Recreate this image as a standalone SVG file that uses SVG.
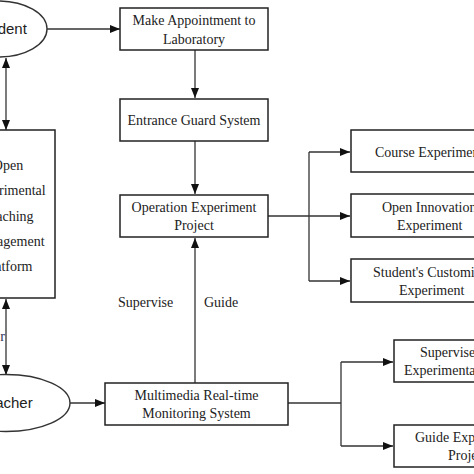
<svg xmlns="http://www.w3.org/2000/svg" width="474" height="474" viewBox="0 0 474 474">
<style>
.box{fill:#fff;stroke:#222;stroke-width:1.5}
.el{fill:#fff;stroke:#333;stroke-width:1.4}
.t{font-family:"Liberation Serif","Times New Roman",serif;font-size:14px;fill:#222}
.m{text-anchor:middle}
.s{font-family:"Liberation Sans",Arial,sans-serif;font-size:15px;fill:#222;text-anchor:middle}
.ln{fill:none;stroke:#333;stroke-width:1.3}
</style>
<defs>
<marker id="ah" markerUnits="userSpaceOnUse" markerWidth="11" markerHeight="9" refX="10" refY="4" orient="auto">
<path d="M0,0 L10,4 L0,8 Z" fill="#111"/>
</marker>
<marker id="as" markerUnits="userSpaceOnUse" markerWidth="11" markerHeight="9" refX="0" refY="4" orient="auto">
<path d="M10,0 L0,4 L10,8 Z" fill="#111"/>
</marker>
</defs>
<rect width="474" height="474" fill="#fff"/>
<g id="connectors">
<line class="ln" x1="47" y1="29" x2="120" y2="29" marker-end="url(#ah)"/>
<line class="ln" x1="195" y1="50" x2="195" y2="98" marker-end="url(#ah)"/>
<line class="ln" x1="195" y1="141" x2="195" y2="194" marker-end="url(#ah)"/>
<line class="ln" x1="268" y1="216" x2="309" y2="216"/>
<line class="ln" x1="309" y1="152" x2="309" y2="281"/>
<line class="ln" x1="309" y1="152" x2="350" y2="152" marker-end="url(#ah)"/>
<line class="ln" x1="309" y1="216" x2="350" y2="216" marker-end="url(#ah)"/>
<line class="ln" x1="309" y1="281" x2="350" y2="281" marker-end="url(#ah)"/>
<line class="ln" x1="195" y1="383" x2="195" y2="238" marker-end="url(#ah)"/>
<line class="ln" x1="70" y1="403" x2="105" y2="403" marker-end="url(#ah)"/>
<line class="ln" x1="288" y1="403" x2="341" y2="403"/>
<line class="ln" x1="341" y1="362" x2="341" y2="446"/>
<line class="ln" x1="341" y1="362" x2="393" y2="362" marker-end="url(#ah)"/>
<line class="ln" x1="341" y1="446" x2="393" y2="446" marker-end="url(#ah)"/>
<line class="ln" x1="6" y1="58" x2="6" y2="130" marker-start="url(#as)" marker-end="url(#ah)"/>
<line class="ln" x1="6" y1="299" x2="6" y2="375" marker-start="url(#as)" marker-end="url(#ah)"/>
</g>
<g id="student">
<ellipse class="el" cx="-2" cy="29" rx="49" ry="28"/>
<text class="s" x="1" y="34">Student</text>
</g>
<g id="make-appointment">
<rect class="box" x="120" y="8" width="148" height="42"/>
<text class="t m" x="194" y="25">Make Appointment to</text>
<text class="t m" x="194" y="44">Laboratory</text>
</g>
<g id="entrance-guard">
<rect class="box" x="120" y="99" width="148" height="42"/>
<text class="t m" x="194" y="125">Entrance Guard System</text>
</g>
<g id="operation">
<rect class="box" x="120" y="195" width="148" height="42"/>
<text class="t m" x="194" y="212">Operation Experiment</text>
<text class="t m" x="194" y="230">Project</text>
</g>
<g id="platform">
<rect class="box" x="-40" y="130" width="95" height="168"/>
<text class="t m" x="8" y="170">Open</text>
<text class="t m" x="8" y="195">Experimental</text>
<text class="t m" x="8" y="221">Teaching</text>
<text class="t m" x="8" y="246">Management</text>
<text class="t m" x="8" y="271">Platform</text>
</g>
<g id="course">
<rect class="box" x="351" y="130" width="170" height="42"/>
<text class="t" x="375" y="157">Course Experiment</text>
</g>
<g id="open-innovation">
<rect class="box" x="351" y="194" width="170" height="43"/>
<text class="t" x="382" y="212">Open Innovation</text>
<text class="t" x="397" y="230">Experiment</text>
</g>
<g id="customized">
<rect class="box" x="351" y="259" width="170" height="43"/>
<text class="t" x="373" y="277">Student's Customized</text>
<text class="t" x="399" y="295">Experiment</text>
</g>
<g id="labels">
<text class="t" x="118" y="307">Supervise</text>
<text class="t" x="204" y="307">Guide</text>
<text x="5" y="341" font-family="Liberation Serif,serif" font-size="14" fill="#335" text-anchor="end">r</text>
</g>
<g id="teacher">
<ellipse class="el" cx="6" cy="403" rx="64" ry="28.5"/>
<text class="s" x="6" y="408">Teacher</text>
</g>
<g id="monitoring">
<rect class="box" x="105" y="383" width="183" height="42"/>
<text class="t m" x="196.5" y="400">Multimedia Real-time</text>
<text class="t m" x="196.5" y="418">Monitoring System</text>
</g>
<g id="supervise-exp">
<rect class="box" x="394" y="340" width="130" height="42"/>
<text class="t" x="420" y="357">Supervise</text>
<text class="t" x="404" y="375">Experimental</text>
</g>
<g id="guide-exp">
<rect class="box" x="394" y="425" width="130" height="42"/>
<text class="t" x="415" y="442">Guide Experiment</text>
<text class="t" x="448" y="460">Project</text>
</g>
</svg>
